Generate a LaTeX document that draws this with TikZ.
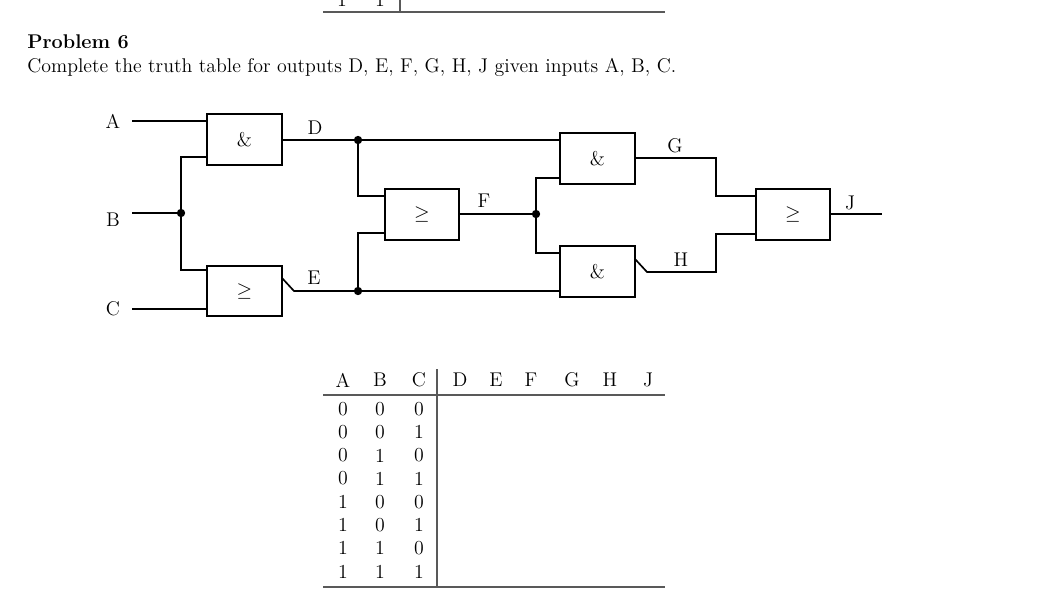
\documentclass[tikz,border=0pt]{standalone}
\begin{document}
\begin{tikzpicture}[x=0.6pt,y=-0.6pt,font=\fontsize{11.9}{14}\selectfont,
  gate/.style={draw,line width=1.3pt},
  w/.style={line width=1pt},
  dot/.style={circle,fill,inner sep=0pt,minimum size=5pt},
  rule/.style={draw=gray!70!black,line width=0.8pt}]
\useasboundingbox (0,0) rectangle (1059,596);
\begin{scope}
\clip (0,0) rectangle (1059,596);
\node at (342,0) {1}; \node at (380,0) {1};
\end{scope}
\draw[rule] (400,0) -- (400,12);
\draw[rule] (323,12) -- (665,12);
\node[anchor=west,inner sep=0pt,font=\fontsize{11.9}{14}\selectfont\bfseries] (t1) at (27,42) {Problem 6};
\node[anchor=west,inner sep=0pt] (t2) at (27,67) {Complete the truth table for outputs D, E, F, G, H, J given inputs A, B, C.};
% gates
\draw[gate] (207,114) rectangle (282,165); \node (g1) at (244.5,139.5) {\&};
\draw[gate] (207,266) rectangle (282,316); \node (g2) at (244.5,291) {$\geq$};
\draw[gate] (385,189) rectangle (459,240); \node (g3) at (422,214.5) {$\geq$};
\draw[gate] (560,133) rectangle (635,184); \node (g4) at (597.5,158.5) {\&};
\draw[gate] (560,246) rectangle (635,297); \node (g5) at (597.5,271.5) {\&};
\draw[gate] (756,189) rectangle (830,240); \node (g6) at (793,214.5) {$\geq$};
% labels
\node (A) at (113,121) {A}; \node (B) at (113,220) {B}; \node (C) at (113,309) {C};
\node (D) at (315,128) {D}; \node (E) at (314,278) {E}; \node (F) at (484,201) {F};
\node (G) at (675,146) {G}; \node (H) at (681,260) {H}; \node (J) at (850,203) {J};
% wires
\draw[w] (132,121) -- (207,121);
\draw[w] (132,213) -- (181,213);
\draw[w] (207,157) -- (181,157) -- (181,270) -- (207,270);
\draw[w] (132,309) -- (207,309);
\node[dot] (d1) at (181,213) {};
\draw[w] (282,140) -- (560,140);
\node[dot] (d2) at (358,140) {};
\draw[w] (358,140) -- (358,196) -- (385,196);
\draw[w] (282,278) -- (294,291) -- (560,291);
\node[dot] (d3) at (358,291) {};
\draw[w] (358,291) -- (358,233) -- (385,233);
\draw[w] (459,214) -- (536,214);
\node[dot] (d4) at (536,214) {};
\draw[w] (560,178) -- (536,178) -- (536,253) -- (560,253);
\draw[w] (635,158) -- (716,158) -- (716,196) -- (756,196);
\draw[w] (635,259) -- (647,272) -- (716,272) -- (716,234) -- (756,234);
\draw[w] (830,214) -- (882,214);
% table
\foreach \x/\t in {343/A,380/B,419/C,460/D,496/E,531/F,572/G,610/H,648/J} \node at (\x,380) {\t};
\draw[rule] (437,369) -- (437,587);
\draw[rule] (323,395) -- (665,395);
\draw[rule] (323,587) -- (665,587);
\foreach \a/\b/\c [count=\i from 0] in {0/0/0,0/0/1,0/1/0,0/1/1,1/0/0,1/0/1,1/1/0,1/1/1}{
  \node at (343,{409+23.2*\i}) {\a};
  \node at (380,{409+23.2*\i}) {\b};
  \node at (419,{409+23.2*\i}) {\c};}
\end{tikzpicture}
\end{document}
